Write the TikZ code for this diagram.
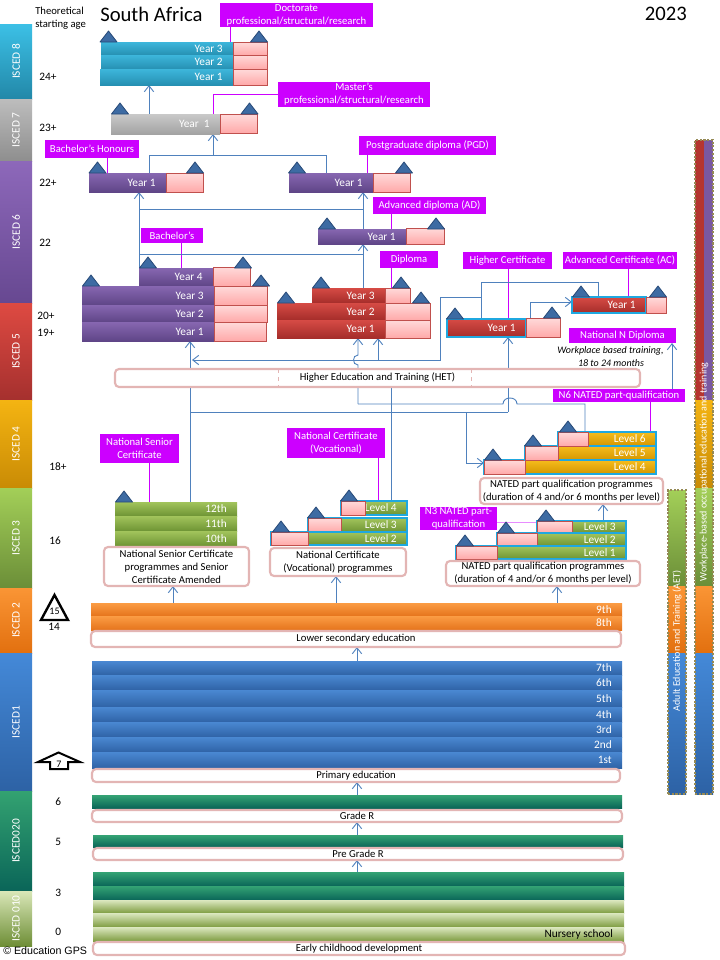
\documentclass[tikz,border=0pt]{standalone}
\usepackage{fontspec}
\setmainfont{Carlito}
\newfontfamily\arialf{Liberation Sans}
\usetikzlibrary{fit,arrows.meta,backgrounds}
\definecolor{tealT}{HTML}{3DB6DB}\definecolor{tealB}{HTML}{2690B2}
\definecolor{grayT}{HTML}{C9C9C9}\definecolor{grayB}{HTML}{A3A3A3}
\definecolor{purpT}{HTML}{8767B1}\definecolor{purpB}{HTML}{5F4587}
\definecolor{redT}{HTML}{D64B45}\definecolor{redB}{HTML}{A52D2A}
\definecolor{ambT}{HTML}{F6BC1C}\definecolor{ambB}{HTML}{D49600}
\definecolor{grnT}{HTML}{A2C45C}\definecolor{grnB}{HTML}{6E9434}
\definecolor{orgT}{HTML}{FB9C44}\definecolor{orgB}{HTML}{E5741C}
\definecolor{bluT}{HTML}{4A88D2}\definecolor{bluB}{HTML}{2F63A6}
\definecolor{dgrT}{HTML}{34A374}\definecolor{dgrB}{HTML}{0A6658}
\definecolor{lgrT}{HTML}{DCE8C0}\definecolor{lgrB}{HTML}{7F9D42}
\definecolor{pinkT}{HTML}{FFDADA}\definecolor{pinkB}{HTML}{FFA9A9}
\definecolor{pinkD}{HTML}{C0504D}
\definecolor{mag}{HTML}{CC00FF}
\definecolor{conc}{HTML}{4F81BD}
\definecolor{descD}{HTML}{E3B5B4}
\definecolor{cyanD}{HTML}{1FA8E0}
\definecolor{triF}{HTML}{3D6BA3}\definecolor{triD}{HTML}{284A78}
\definecolor{dotD}{HTML}{958A55}
\definecolor{iAT}{HTML}{3CC0E6}\definecolor{iAB}{HTML}{2288A8}
\definecolor{iBT}{HTML}{BDBDBD}\definecolor{iBB}{HTML}{8E8E8E}
\definecolor{iCT}{HTML}{8D68BA}\definecolor{iCB}{HTML}{674891}
\definecolor{iDT}{HTML}{DE4A42}\definecolor{iDB}{HTML}{A5302E}
\definecolor{iET}{HTML}{F4B412}\definecolor{iEB}{HTML}{C98B05}
\definecolor{iFT}{HTML}{A3CF58}\definecolor{iFB}{HTML}{6B8E38}
\definecolor{iGT}{HTML}{FA9535}\definecolor{iGB}{HTML}{E2700F}
\definecolor{iHT}{HTML}{4489D8}\definecolor{iHB}{HTML}{2D62A5}
\definecolor{iIT}{HTML}{33A271}\definecolor{iIB}{HTML}{0A6558}
\definecolor{iJT}{HTML}{D9E7B8}\definecolor{iJB}{HTML}{6E8E36}
\definecolor{wRed}{HTML}{B5352F}\definecolor{wPur}{HTML}{7A58A0}
\tikzset{
 blkbase/.style={inner sep=0pt, outer sep=0pt, draw=none},
 sTeal/.style={top color=tealT, bottom color=tealB},
 sGray/.style={top color=grayT, bottom color=grayB},
 sPurp/.style={top color=purpT, bottom color=purpB},
 sRed/.style={top color=redT, bottom color=redB},
 sAmb/.style={top color=ambT, bottom color=ambB},
 sGrn/.style={top color=grnT, bottom color=grnB},
 sOrg/.style={top color=orgT, bottom color=orgB},
 sBlu/.style={top color=bluT, bottom color=bluB},
 sDgr/.style={top color=dgrT, bottom color=dgrB},
 sLgr/.style={top color=lgrT, bottom color=lgrB},
 cyanb/.style={draw=cyanD, line width=0.8pt},
 bartext/.style={anchor=east, inner sep=0pt, text=white, font=\fontsize{8.5}{10}\selectfont},
 pinkst/.style={inner sep=0pt, outer sep=0pt, top color=pinkT, bottom color=pinkB, draw=pinkD, line width=0.7pt},
 magst/.style={inner sep=0pt, outer sep=0pt, fill=mag},
 magtext/.style={text=white, align=center, inner sep=0pt, font=\fontsize{8}{9.8}\selectfont},
 descst/.style={inner sep=0pt, outer sep=0pt, fill=white, draw=descD, line width=1.6pt, rounded corners=3pt},
 desctext/.style={align=center, inner sep=0pt, font=\fontsize{8}{9.7}\selectfont},
 conn/.style={draw=conc, line width=0.7pt},
 arr/.style={conn, -{Straight Barb[length=4.5pt,width=7pt]}},
 magline/.style={draw=mag, line width=0.7pt},
 trist/.style={fill=triF, draw=triD, line width=0.6pt, line join=round},
 agetext/.style={anchor=west, inner sep=0pt, font=\fontsize{8.5}{10}\selectfont},
 isctext/.style={rotate=90, text=white, inner sep=0pt, font=\fontsize{8.5}{10}\selectfont},
 dotb/.style={draw=dotD, line width=2pt, dash pattern=on 1.6pt off 1.2pt},
 vtext/.style={rotate=90, text=white, inner sep=0pt, font=\fontsize{7.5}{9}\selectfont}
}
\newcommand{\blk}[7]{%
 \node[blkbase,fit={(#2,#3)(#4,#5)},#6] (#1) {};
 \node[bartext] at ([xshift=-7.5pt]#1.east) {#7};}
\newcommand{\pbox}[5]{\node[pinkst,fit={(#2,#3)(#4,#5)}] (#1) {};}
\newcommand{\mlab}[6]{%
 \node[magst,fit={(#2,#3)(#4,#5)}] (#1) {};
 \node[magtext] at (#1.center) {#6};}
\newcommand{\dbox}[6]{%
 \node[descst,fit={(#2,#3)(#4,#5)}] (#1) {};
 \node[desctext] at (#1.center) {#6};}
\newcommand{\tri}[2]{\filldraw[trist] (#1-8.5,#2) -- (#1+8.5,#2) -- (#1,#2-11) -- cycle;}
\newcommand{\isc}[6]{%
 \node[blkbase,fit={(0,#2)(32,#3)},top color=#4,bottom color=#5] (#1) {};
 \node[isctext] at (#1.center) {#6};}
\begin{document}
\begin{tikzpicture}[x=0.75pt,y=-0.75pt]
\useasboundingbox (0,0) rectangle (720,960);
% ---------- left ISCED column
\isc{i8}{24}{99}{iAT}{iAB}{ISCED 8}
\isc{i7}{99}{161}{iBT}{iBB}{ISCED 7}
\isc{i6}{161}{303}{iCT}{iCB}{ISCED 6}
\isc{i5}{303}{400}{iDT}{iDB}{ISCED 5}
\isc{i4}{400}{488}{iET}{iEB}{ISCED 4}
\isc{i3}{488}{588}{iFT}{iFB}{ISCED 3}
\isc{i2}{588}{653}{iGT}{iGB}{ISCED 2}
\isc{i1}{653}{791}{iHT}{iHB}{ISCED1}
\isc{i020}{791}{891}{iIT}{iIB}{ISCED020}
\isc{i010}{891}{946}{iJT}{iJB}{ISCED 010}
% ---------- headings
\node[anchor=west, inner sep=0pt, align=left, font=\fontsize{8}{9.8}\selectfont] (hdr) at (35,18.5) {Theoretical\\starting age};
\node[anchor=west, inner sep=0pt, font=\fontsize{15.5}{18}\selectfont] (ttl) at (100,14) {South Africa};
\node[anchor=east, inner sep=0pt, font=\fontsize{15.5}{18}\selectfont] (yr) at (687,14) {2023};
\node[anchor=west, inner sep=0pt, font=\arialf\fontsize{8}{10}\selectfont] (cpy) at (3,951) {\textcopyright\ Education GPS};
% ---------- ages
\node[agetext] (a24) at (39,77) {24+};
\node[agetext] (a23) at (39,128) {23+};
\node[agetext] (a22p) at (39,183) {22+};
\node[agetext] (a22) at (39,243) {22};
\node[agetext] (a20) at (37,316) {20+};
\node[agetext] (a19) at (37,333) {19+};
\node[agetext] (a18) at (49,467) {18+};
\node[agetext] (a16) at (49,541) {16};
\node[agetext] (a14) at (48,627) {14};
\node[agetext] (a6) at (55,802) {6};
\node[agetext] (a5) at (55,842) {5};
\node[agetext] (a3) at (55,893) {3};
\node[agetext] (a0) at (55,932) {0};
\filldraw[fill=white, draw=black, line width=1.8pt, line join=miter] (41,620) -- (68,620) -- (54.5,595) -- cycle;
\node[inner sep=0pt, font=\fontsize{7.5}{9}\selectfont] (a15) at (54.5,611) {15};
\filldraw[fill=white, draw=black, line width=1.5pt, line join=miter] (38,762) -- (58.5,752.5) -- (80,762) -- (68,762) -- (68,769) -- (50,769) -- (50,762) -- cycle;
\node[inner sep=0pt, font=\fontsize{7.5}{9}\selectfont] (a7) at (59,764.5) {7};
% ---------- ISCED 8
\blk{d3}{101}{42}{233}{55}{sTeal}{Year 3}
\blk{d2}{101}{55}{233}{69}{sTeal}{Year 2}
\blk{d1}{100}{69}{233}{85}{sTeal}{Year 1}
\pbox{dp3}{233}{42}{267}{55}
\pbox{dp2}{233}{55}{267}{69}
\pbox{dp1}{233}{69}{267}{85}
\tri{108.5}{42}\tri{259}{42}
\mlab{ldoc}{220}{3}{373}{27}{Doctorate\\professional/structural/research}
% ---------- ISCED 7
\blk{m1}{111}{114}{220}{134}{sGray}{Year\ \ 1}
\pbox{mp1}{220}{114}{257}{133}
\tri{120}{114}\tri{249.5}{114}
\mlab{lmas}{278}{82}{430}{107}{Master's\\professional/structural/research}
% ---------- ISCED 6
\blk{h1}{89}{173}{166}{192}{sPurp}{Year 1}
\pbox{hp1}{166}{173}{203}{192}
\tri{97.5}{173}\tri{195}{173}
\mlab{lhon}{45}{140}{139}{158}{Bachelor's Honours}
\blk{g1}{289}{173}{373}{192}{sPurp}{Year 1}
\pbox{gp1}{373}{173}{410}{192}
\tri{297}{173}\tri{404}{173}
\mlab{lpgd}{359}{136}{496}{155}{Postgraduate diploma (PGD)}
\blk{a1}{318}{229}{406}{244}{sPurp}{Year 1}
\pbox{ap1}{406}{228}{444}{244}
\tri{327}{229}\tri{436}{229}
\mlab{lad}{373}{197}{486}{214}{Advanced diploma (AD)}
% Bachelor's
\blk{b4}{139}{268}{213}{286}{sPurp}{Year 4}
\pbox{bp4}{213}{267}{250}{286}
\blk{b3}{82}{286}{214}{305}{sPurp}{Year 3}
\pbox{bp3}{214}{286}{267}{305}
\blk{b2}{82}{305}{214}{322}{sPurp}{Year 2}
\pbox{bp2}{214}{305}{267}{322}
\blk{b1}{82}{322}{214}{341}{sPurp}{Year 1}
\pbox{bp1}{214}{322}{266}{341}
\tri{148}{268}\tri{243}{268}\tri{91}{286}\tri{261}{286}
\mlab{lbac}{141}{228}{203}{243}{Bachelor's}
% ---------- ISCED 5
\blk{dy3}{312}{288}{385}{303}{sRed}{Year 3}
\pbox{dyp3}{385}{288}{410}{303}
\blk{dy2}{277}{303}{385}{320}{sRed}{Year 2}
\pbox{dyp2}{385}{303}{430}{320}
\blk{dy1}{277}{320}{385}{338}{sRed}{Year 1}
\pbox{dyp1}{385}{320}{430}{338}
\tri{286}{303}\tri{321}{288}\tri{401}{288}\tri{421}{303}
\mlab{ldip}{380}{251}{438}{268}{Diploma}
\blk{hc}{447}{319}{526}{337}{sRed,cyanb}{Year 1}
\pbox{hcp}{526}{318}{560}{337}
\tri{455}{319}\tri{552}{318}
\mlab{lhc}{463}{252}{552}{269}{Higher Certificate}
\blk{ac}{572}{297}{646}{313}{sRed,cyanb}{Year 1}
\pbox{acp}{646}{297}{666}{313}
\tri{581}{297}\tri{658}{297}
\mlab{lac}{563}{252}{677}{269}{Advanced Certificate (AC)}
\mlab{lnd}{569}{328}{676}{343}{National N Diploma}
\node[inner sep=0pt, font=\itshape\fontsize{7.5}{9}\selectfont] (wbt1) at (610.5,351) {Workplace based training,};
\node[inner sep=0pt, font=\itshape\fontsize{7.5}{9}\selectfont] (wbt2) at (611,363) {18 to 24 months};
\dbox{het}{115}{369}{640}{387}{Higher Education and Training (HET)}
\draw[descD, dashed, line width=0.5pt] (het.north -| 278,0) -- (het.south -| 278,0);
\draw[descD, dashed, line width=0.5pt] (het.north -| 471,0) -- (het.south -| 471,0);
% ---------- ISCED 4
\mlab{ln6}{553}{389}{685}{402}{N6 NATED part-qualification}
\blk{n4}{484}{460}{656}{474}{sAmb,cyanb}{Level 4}
\pbox{n4p}{484}{460}{525}{474}
\blk{n5}{525}{446}{656}{460}{sAmb,cyanb}{Level 5}
\pbox{n5p}{525}{446}{558}{460}
\blk{n6}{558}{432}{656}{446}{sAmb,cyanb}{Level 6}
\pbox{n6p}{558}{432}{588}{446}
\tri{493}{460}\tri{533}{446}\tri{568}{432}
\dbox{nup}{480}{478}{663}{504}{NATED part qualification programmes\\(duration of 4 and/or 6 months per level)}
% ---------- ISCED 3
\blk{l3}{537}{521}{626}{533}{sGrn,cyanb}{Level 3}
\pbox{l3p}{537}{521}{572}{533}
\blk{l2}{497}{533}{626}{546}{sGrn,cyanb}{Level 2}
\pbox{l2p}{497}{533}{537}{546}
\blk{l1}{456}{546}{626}{559}{sGrn,cyanb}{Level 1}
\pbox{l1p}{456}{546}{497}{559}
\tri{465}{546}\tri{506}{533}\tri{546}{521}
\mlab{ln3}{420}{507}{497}{530}{N3 NATED part-\\qualification}
\dbox{nlo}{446}{561}{640}{586}{NATED part qualification programmes\\(duration of 4 and/or 6 months per level)}
\blk{ncv4}{341}{501}{407}{515}{sGrn,cyanb}{Level 4}
\pbox{ncv4p}{341}{501}{365}{515}
\blk{ncv3}{308}{518}{407}{532}{sGrn,cyanb}{Level 3}
\pbox{ncv3p}{308}{518}{341}{532}
\blk{ncv2}{271}{532}{407}{545}{sGrn,cyanb}{Level 2}
\pbox{ncv2p}{271}{532}{308}{545}
\tri{281}{532}\tri{316}{518}\tri{349}{501}
\mlab{lncv}{287}{428}{385}{458}{National Certificate\\(Vocational)}
\dbox{ncvb}{270}{548}{406}{576}{National Certificate\\(Vocational) programmes}
\blk{nsc12}{115}{502}{237}{516}{sGrn}{12th}
\blk{nsc11}{115}{516}{237}{531}{sGrn}{11th}
\blk{nsc10}{115}{531}{237}{546}{sGrn}{10th}
\tri{124}{502}
\mlab{lnsc}{100}{434}{179}{463}{National Senior\\Certificate}
\dbox{nscb}{104}{547}{249}{586}{National Senior Certificate\\programmes and Senior\\Certificate Amended}
% ---------- ISCED 2
\blk{o9}{91}{603}{622}{616}{sOrg}{9th}
\blk{o8}{91}{616}{622}{630}{sOrg}{8th}
\dbox{lsec}{91}{631}{621}{647}{Lower secondary education}
% ---------- ISCED 1
\blk{p7}{92}{661}{622}{675}{sBlu}{7th}
\blk{p6}{92}{675}{622}{690}{sBlu}{6th}
\blk{p5}{92}{690}{622}{707}{sBlu}{5th}
\blk{p4}{92}{707}{622}{722}{sBlu}{4th}
\blk{p3}{92}{722}{622}{737}{sBlu}{3rd}
\blk{p2}{92}{737}{622}{752}{sBlu}{2nd}
\blk{p1}{92}{752}{622}{768}{sBlu}{1st}
\dbox{prim}{92}{769}{620}{782}{Primary education}
% ---------- ISCED 0
\blk{gr}{92}{795}{622}{808}{sDgr}{}
\dbox{grb}{92}{810}{622}{822}{Grade R}
\blk{pgr}{93}{835}{623}{847}{sDgr}{}
\dbox{pgrb}{93}{848}{623}{860}{Pre Grade R}
\blk{e1}{93}{872}{624}{886}{sDgr}{}
\blk{e2}{93}{886}{624}{900}{sDgr}{}
\blk{e3}{93}{900}{624}{913}{sLgr}{}
\blk{e4}{93}{913}{624}{927}{sLgr}{}
\blk{e5}{93}{927}{624}{941}{sLgr}{}
\node[bartext, text=black] (nurs) at ([xshift=-8pt]e5.east) {Nursery school};
\dbox{ecd}{93}{942}{625}{955}{Early childhood development}
% ---------- right vertical bars
\shade[top color=iFT, bottom color=iFB] (668,490) rectangle (686,586);
\shade[top color=iGT, bottom color=iGB] (668,586) rectangle (686,653);
\shade[top color=iHT, bottom color=iHB] (668,653) rectangle (686,794);
\node[blkbase, dotb, fit={(668,490)(686,794)}] (aet) {};
\node[vtext] (aett) at (677,641) {Adult Education and Training (AET)};
\fill[wRed] (695,140) rectangle (704,400);
\fill[wPur] (704,140) rectangle (713,400);
\shade[top color=iET, bottom color=iEB] (695,400) rectangle (713,488);
\shade[top color=iFT, bottom color=iFB] (695,488) rectangle (713,586);
\shade[top color=iGT, bottom color=iGB] (695,586) rectangle (713,653);
\shade[top color=iHT, bottom color=iHB] (695,653) rectangle (713,794);
\node[blkbase, dotb, fit={(695,140)(713,794)}] (wpb) {};
\node[vtext] (wpbt) at (704,472) {Workplace-based occupational education and training};
% ---------- connectors (behind)
\begin{pgfonlayer}{background}
\draw[magline] (ldoc.south -| 230,0) -- (d3.north -| 230,0);
\draw[magline] (lmas.west) -| (m1.north -| 213,0);
\draw[magline] (lhon.south -| 107,0) -- (h1.north -| 107,0);
\draw[magline] (lpgd.south -| 367,0) -- (g1.north -| 367,0);
\draw[magline] (lad.south -| 391,0) -- (a1.north -| 391,0);
\draw[magline] (lbac.south -| 181,0) -- (b4.north -| 181,0);
\draw[magline] (ldip.south -| 391,0) -- (dy3.north -| 391,0);
\draw[magline] (lhc.south -| 508,0) -- (hc.north -| 508,0);
\draw[magline] (lac.south -| 628,0) -- (ac.north -| 628,0);
\draw[magline] (ln6.south -| 650,0) -- (n6.north -| 650,0);
\draw[magline, draw=mag!45] (ln3.east |- 0,522) -- (l3p.west |- 0,522);
\draw[magline] (lncv.south -| 378,0) -- (ncv4.north -| 378,0);
\draw[magline] (lnsc.south -| 149,0) -- (nsc12.north -| 149,0);
% tertiary
\draw[arr] (m1.north -| 149,0) -- (d1.south -| 149,0);
\draw[conn] (h1.north -| 149,0) -- (149,155) -- (326,155) -- (g1.north -| 326,0);
\draw[arr] (213,155) -- (m1.south -| 213,0);
\draw[arr] (b4.north -| 139,0) -- (h1.south -| 139,0);
\draw[conn] (139,209) -- (363,209);
\draw[arr] (a1.north -| 363,0) -- (g1.south -| 363,0);
\draw[conn] (139,254) -- (363,254);
\draw[arr] (dy3.north -| 363,0) -- (a1.south -| 363,0);
\draw[conn] (hc.north -| 481,0) -- (481,282) -- (598,282) -- (ac.north -| 598,0);
\draw[arr] (hcp.north -| 530,0) -- (530,302) -- (ac.west |- 0,302);
\draw[arr] (481,297) -- (440,297) -- (440,360) -- (192,360);
\draw[arr] (378,360) -- (dy1.south -| 378,0);
\draw[arr] (358,404) -- (358,365) .. controls (352,365) and (352,355) .. (358,355) -- (dy1.south -| 358,0);
\draw[arr] (nsc12.north -| 190,0) -- (b1.south -| 190,0);
\draw[conn] (190,412) -- (508,412);
\draw[arr] (508,412) -- (hc.south -| 508,0);
\draw[conn] (het.south -| 391,0) -- (ncv4.north -| 391,0);
\draw[arr] (466,412) -- (466,463) -- (n4p.west |- 0,463);
\draw[conn] (358,404) -- (503,404) .. controls (503,396) and (517,396) .. (517,404) -- (585,404) -- (n6p.north -| 585,0);
\draw[arr] (ln6.north -| 672,0) -- (lnd.south -| 672,0);
% secondary and below
\draw[arr] (l3.north -| 603,0) -- (nup.south -| 603,0);
\draw[arr] (o9.north -| 173,0) -- (nscb.south -| 173,0);
\draw[arr] (o9.north -| 336,0) -- (ncvb.south -| 336,0);
\draw[arr] (o9.north -| 557,0) -- (nlo.south -| 557,0);
\draw[arr] (p7.north -| 357,0) -- (lsec.south -| 357,0);
\draw[arr] (gr.north -| 357,0) -- (prim.south -| 357,0);
\draw[arr] (pgr.north -| 357,0) -- (grb.south -| 357,0);
\draw[arr] (e1.north -| 357,0) -- (pgrb.south -| 357,0);
\end{pgfonlayer}
\end{tikzpicture}
\end{document}
